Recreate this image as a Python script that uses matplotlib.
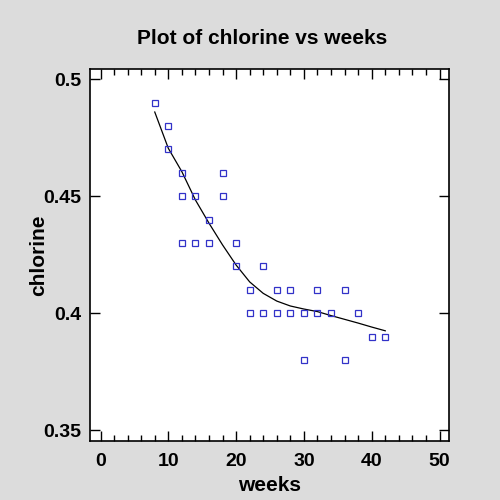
import matplotlib
matplotlib.use("Agg")
import matplotlib.pyplot as plt
from matplotlib.ticker import MultipleLocator

plt.rcParams['font.family'] = ['Liberation Sans', 'DejaVu Sans']

# observed data (weeks, chlorine); coincident repeats are drawn once
weeks = [8, 10, 10, 12, 12, 12, 14, 14, 16, 16, 18, 18, 20, 20, 22, 22,
         24, 24, 26, 26, 28, 28, 30, 30, 32, 32, 34, 36, 36, 38, 40, 42]
chlorine = [0.49, 0.48, 0.47, 0.46, 0.45, 0.43, 0.45, 0.43, 0.44, 0.43,
            0.46, 0.45, 0.43, 0.42, 0.41, 0.40, 0.42, 0.40, 0.41, 0.40,
            0.41, 0.40, 0.40, 0.38, 0.41, 0.40, 0.40, 0.41, 0.38, 0.40,
            0.39, 0.39]

# smooth curve
smooth_x = [8, 10, 12, 14, 16, 18, 20, 22, 24, 26, 28, 30, 32, 34, 36, 38, 40, 42]
smooth_y = [0.486, 0.4705, 0.4605, 0.4484, 0.4385, 0.4292, 0.4206, 0.4134,
            0.4085, 0.4052, 0.4031, 0.4018, 0.4007, 0.399, 0.3974, 0.3958,
            0.3941, 0.3925]

bg = '#dcdcdc'
fig = plt.figure(figsize=(5, 5), dpi=100, facecolor=bg)
ax = fig.add_axes([0.18, 0.118, 0.718, 0.745])

ax.plot(smooth_x, smooth_y, color='black', lw=0.9)
ax.plot(weeks, chlorine, linestyle='none', marker='s', ms=5,
        mfc='none', mec='#3232c8', mew=0.9)

ax.set_xlim(-1.55, 51.4)
ax.set_ylim(0.3454, 0.5046)
ax.xaxis.set_major_locator(MultipleLocator(10))
ax.xaxis.set_minor_locator(MultipleLocator(2))
ax.set_yticks([0.35, 0.4, 0.45, 0.5])
ax.set_yticklabels(['0.35', '0.4', '0.45', '0.5'])

ax.tick_params(axis='both', which='major', direction='in', length=7,
               width=1, labelsize=14, pad=6)
ax.tick_params(axis='x', which='major', pad=9)
ax.tick_params(axis='x', which='minor', direction='in', length=4, width=1)
ax.tick_params(axis='x', which='both', top=True)
ax.tick_params(axis='y', right=True)
for lab in ax.get_xticklabels() + ax.get_yticklabels():
    lab.set_fontweight('bold')
for s in ax.spines.values():
    s.set_linewidth(1.2)

ax.set_xlabel('weeks', fontsize=15, fontweight='bold', labelpad=4)
ax.set_ylabel('chlorine', fontsize=15, fontweight='bold', labelpad=-3)
fig.text(0.524, 0.924, 'Plot of chlorine vs weeks', fontsize=15,
         fontweight='bold', ha='center', va='center')

fig.savefig('out.png', dpi=100, facecolor=bg)
